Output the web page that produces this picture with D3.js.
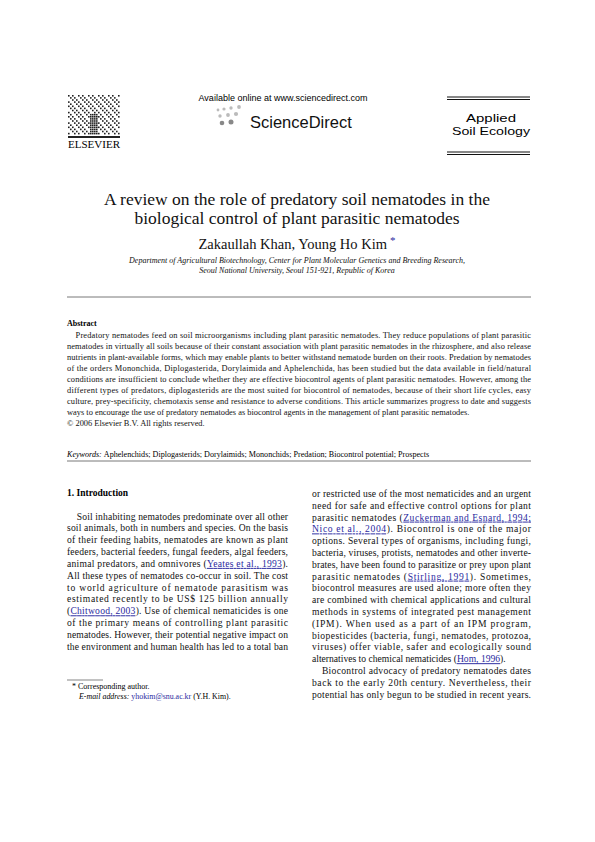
<!DOCTYPE html>
<html><head><meta charset="utf-8">
<script src="https://cdn.jsdelivr.net/npm/d3@7"></script>
<style>body{margin:0;background:#fff}</style>
</head><body>
<script>
const titleLines=["A review on the role of predatory soil nematodes in the","biological control of plant parasitic nematodes"];
const authors="Zakaullah Khan, Young Ho Kim";
const affil=["Department of Agricultural Biotechnology, Center for Plant Molecular Genetics and Breeding Research,","Seoul National University, Seoul 151-921, Republic of Korea"];
const abstractLines=[
"\u2003Predatory nematodes feed on soil microorganisms including plant parasitic nematodes. They reduce populations of plant parasitic",
"nematodes in virtually all soils because of their constant association with plant parasitic nematodes in the rhizosphere, and also release",
"nutrients in plant-available forms, which may enable plants to better withstand nematode burden on their roots. Predation by nematodes",
"of the orders Mononchida, Diplogasterida, Dorylaimida and Aphelenchida, has been studied but the data available in field/natural",
"conditions are insufficient to conclude whether they are effective biocontrol agents of plant parasitic nematodes. However, among the",
"different types of predators, diplogasterids are the most suited for biocontrol of nematodes, because of their short life cycles, easy",
"culture, prey-specificity, chemotaxis sense and resistance to adverse conditions. This article summarizes progress to date and suggests",
"ways to encourage the use of predatory nematodes as biocontrol agents in the management of plant parasitic nematodes.|",
"\u00a9 2006 Elsevier B.V. All rights reserved.|"];
const keywords="Aphelenchids; Diplogasterids; Dorylaimids; Mononchids; Predation; Biocontrol potential; Prospects";
const leftLines=[
"\u2003Soil inhabiting nematodes predominate over all other",
"soil animals, both in numbers and species. On the basis",
"of their feeding habits, nematodes are known as plant",
"feeders, bacterial feeders, fungal feeders, algal feeders,",
"animal predators, and omnivores ([Yeates et al., 1993]).",
"All these types of nematodes co-occur in soil. The cost",
"to world agriculture of nematode parasitism was",
"estimated recently to be US$ 125 billion annually",
"([Chitwood, 2003]). Use of chemical nematicides is one",
"of the primary means of controlling plant parasitic",
"nematodes. However, their potential negative impact on",
"the environment and human health has led to a total ban"];
const rightLines=[
"or restricted use of the most nematicides and an urgent",
"need for safe and effective control options for plant",
"parasitic nematodes ([Zuckerman and Esnard, 1994;]",
"[Nico et al., 2004]). Biocontrol is one of the major",
"options. Several types of organisms, including fungi,",
"bacteria, viruses, protists, nematodes and other inverte-",
"brates, have been found to parasitize or prey upon plant",
"parasitic nematodes ([Stirling, 1991]). Sometimes,",
"biocontrol measures are used alone; more often they",
"are combined with chemical applications and cultural",
"methods in systems of integrated pest management",
"(IPM). When used as a part of an IPM program,",
"biopesticides (bacteria, fungi, nematodes, protozoa,",
"viruses) offer viable, safer and ecologically sound",
"alternatives to chemical nematicides ([Hom, 1996]).|",
"\u2003Biocontrol advocacy of predatory nematodes dates",
"back to the early 20th century. Nevertheless, their",
"potential has only begun to be studied in recent years."];

const W=595,H=842;
const svg=d3.select("body").append("svg").attr("width",W).attr("height",H)
  .style("font-family","'Liberation Serif','Times New Roman',serif");
const LINK="#2a2aa0";
const SANS="'Liberation Sans',Arial,sans-serif";

function para(lines,x,y0,step,width,size){
  lines.forEach((raw,i)=>{
    const last=raw.endsWith("|"); const s=last?raw.slice(0,-1):raw;
    const t=svg.append("text").attr("x",x).attr("y",y0+i*step).attr("font-size",size).attr("fill","#111");
    s.split(/(\[[^\]]*\])/).forEach(seg=>{
      if(!seg)return;
      if(seg[0]==="["){t.append("tspan").text(seg.slice(1,-1)).attr("fill",LINK).attr("text-decoration","underline");}
      else t.append("tspan").text(seg);
    });
    if(!last) t.attr("textLength",width).attr("lengthAdjust","spacing");
  });
}

// Elsevier logo
const g=svg.append("g");
d3.range(0,19).forEach(r=>{ d3.range(0,26).forEach(c=>{ if(((r*7+c*13)%5)<2 || (c>10&&c<15&&r>8)) g.append("rect").attr("x",68+c*2).attr("y",95+r*2.1).attr("width",1.6).attr("height",1.6).attr("fill","#222");});});
g.append("rect").attr("x",68).attr("y",136).attr("width",52).attr("height",2).attr("fill","#222");
svg.append("text").attr("x",94).attr("y",148).attr("text-anchor","middle").attr("font-size",10.5).attr("textLength",52).attr("lengthAdjust","spacingAndGlyphs").text("ELSEVIER");

// ScienceDirect
svg.append("text").attr("x",283).attr("y",101).attr("text-anchor","middle").attr("font-size",9).attr("font-family",SANS).text("Available online at www.sciencedirect.com");
const dots=[[218,110,1.4],[224,109,1.6],[231,108,1.7],[239,107,1.9],[220,116,1.7],[228,115,1.9],[236,114,2.1],[222,123,2.3],[231,122,2.5]];
svg.selectAll(".dot").data(dots).enter().append("circle").attr("cx",d=>d[0]).attr("cy",d=>d[1]).attr("r",d=>d[2]).attr("fill",(d,i)=>i>6?"#888":"#bbb");
svg.append("text").attr("x",250).attr("y",128).attr("font-size",16.5).attr("font-family",SANS).attr("fill","#111").text("ScienceDirect");

// Applied Soil Ecology
[[447,530,97],[447,530,99.5],[447,530,152],[447,530,154.5]].forEach(d=>svg.append("line").attr("x1",d[0]).attr("x2",d[1]).attr("y1",d[2]).attr("y2",d[2]).attr("stroke","#111").attr("stroke-width",1));
svg.append("text").attr("x",491).attr("y",122).attr("text-anchor","middle").attr("font-size",11.5).attr("font-family",SANS).attr("textLength",50).attr("lengthAdjust","spacingAndGlyphs").text("Applied");
svg.append("text").attr("x",491).attr("y",135).attr("text-anchor","middle").attr("font-size",11.5).attr("font-family",SANS).attr("textLength",78).attr("lengthAdjust","spacingAndGlyphs").text("Soil Ecology");

// title
titleLines.forEach((l,i)=>svg.append("text").attr("x",297).attr("y",205+i*18.5).attr("text-anchor","middle").attr("font-size",17.5).attr("fill","#111").text(l));
const au=svg.append("text").attr("x",297).attr("y",249).attr("text-anchor","middle").attr("font-size",14.5).attr("fill","#111");
au.append("tspan").text(authors);
au.append("tspan").text("*").attr("fill",LINK).attr("dy",-5).attr("font-size",11).attr("dx",3);
affil.forEach((l,i)=>svg.append("text").attr("x",297).attr("y",263+i*9.5).attr("text-anchor","middle").attr("font-size",8).attr("font-style","italic").attr("fill","#111").text(l));

svg.append("line").attr("x1",67).attr("x2",531).attr("y1",297).attr("y2",297).attr("stroke","#555").attr("stroke-width",0.8);
svg.append("text").attr("x",67).attr("y",326).attr("font-size",8).attr("font-weight","bold").text("Abstract");
para(abstractLines,67,338,11,464,8.4);
const kw=svg.append("text").attr("x",67).attr("y",457).attr("font-size",8.1);
kw.append("tspan").attr("font-style","italic").text("Keywords:  ");
kw.append("tspan").text(keywords);
svg.append("line").attr("x1",67).attr("x2",531).attr("y1",461).attr("y2",461).attr("stroke","#555").attr("stroke-width",0.8);

svg.append("text").attr("x",67).attr("y",496).attr("font-size",9.5).attr("font-weight","bold").text("1.  Introduction");
para(leftLines,67,519.5,11.85,221,9.6);
para(rightLines,312,497,11.8,219,9.6);

svg.append("line").attr("x1",67).attr("x2",103).attr("y1",680).attr("y2",680).attr("stroke","#333").attr("stroke-width",0.6);
svg.append("text").attr("x",72).attr("y",689).attr("font-size",8).text("*  Corresponding author.");
const em=svg.append("text").attr("x",79).attr("y",699).attr("font-size",7.9);
em.append("tspan").attr("font-style","italic").text("E-mail address: ");
em.append("tspan").attr("fill",LINK).text("yhokim@snu.ac.kr");
em.append("tspan").text(" (Y.H. Kim).");
</script>
</body></html>
